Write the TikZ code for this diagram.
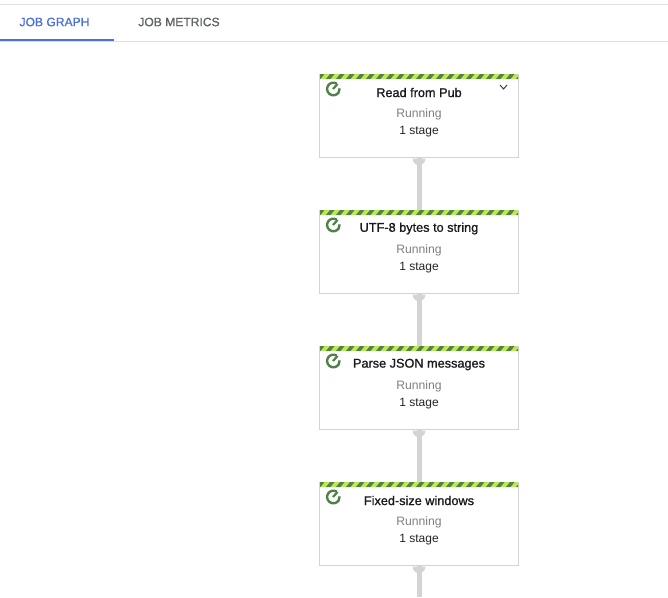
\documentclass[tikz,border=0pt]{standalone}
\usepackage{fontspec}
\setmainfont{Liberation Sans}
\newfontfamily\medfont[FakeBold=1]{Liberation Sans}
\definecolor{tabblue}{HTML}{4A6FD8}
\definecolor{tabgrey}{HTML}{5F6368}
\definecolor{rulegrey}{HTML}{E0E0E0}
\definecolor{edgegrey}{HTML}{D4D4D4}
\definecolor{darkgreen}{HTML}{4F8148}
\definecolor{limegreen}{HTML}{BDE84F}
\tikzset{
  stagebox/.style={draw=edgegrey,fill=white,line width=1pt,minimum width=199pt,minimum height=83pt,inner sep=0pt},
  edgeline/.style={draw=edgegrey,line width=5pt},
  tabtext/.style={font=\medfont\fontsize{12.1}{14}\selectfont,inner sep=0pt},
  titletext/.style={font=\medfont\fontsize{12.7}{14}\selectfont,text=black!90,inner sep=0pt},
  statetext/.style={font=\fontsize{12.2}{14}\selectfont,text=black!50,inner sep=0pt},
  stagetext/.style={font=\fontsize{12}{14}\selectfont,text=black!85,inner sep=0pt},
}
\begin{document}
\begin{tikzpicture}[x=1pt,y=-1pt]
\useasboundingbox (0,0) rectangle (668,597);

% tabs
\draw[rulegrey,line width=1pt] (0,4.5) -- (668,4.5);
\draw[rulegrey,line width=1pt] (0,41) -- (668,41);
\draw[tabblue,line width=2pt] (0,40) -- (114,40);
\node[tabtext,text=tabblue] (tabgraph) at (54.5,22) {JOB GRAPH};
\node[tabtext,text=tabgrey] (tabmetrics) at (179,22) {JOB METRICS};

\foreach \n/\y/\t in {1/116/Read from Pub,2/252/UTF-8 bytes to string,3/388/Parse JSON messages,4/524/Fixed-size windows} {
\node[stagebox] (box\n) at (419,\y) {};
\fill[limegreen] (320,\y-42) rectangle (518,\y-37);
\begin{scope}
\clip (320,\y-42) rectangle (518,\y-37);
\foreach \x in {0,1,...,20} {
\fill[darkgreen] (316+10*\x,\y-37) -- (320.5+10*\x,\y-37) -- (324.5+10*\x,\y-42) -- (320+10*\x,\y-42) -- cycle;
}
\end{scope}
\draw[darkgreen,line width=2.4pt] (333+4,\y-27-5.2) arc[start angle=55,end angle=365,radius=6.3pt];
\draw[darkgreen,line width=2.2pt] (333,\y-27) -- (337.5,\y-32);
\node[titletext] (title\n) at (419,\y-23.5) {\t};
\node[statetext] (state\n) at (419,\y-2) {Running};
\node[stagetext] (stage\n) at (419,\y+16) {1 stage};
\fill[edgegrey] ([xshift=-6.5pt,yshift=-0.5pt]box\n.south) arc[start angle=180,end angle=360,radius=6.5pt];
}
\draw[black!75,line width=1pt] (500,85) -- (503.5,89) -- (507,85);

% connectors
\coordinate (tail) at (419,597);
\draw[edgeline] (box1.south) -- (box2.north);
\draw[edgeline] (box2.south) -- (box3.north);
\draw[edgeline] (box3.south) -- (box4.north);
\draw[edgeline] (box4.south) -- (tail);
\end{tikzpicture}
\end{document}
